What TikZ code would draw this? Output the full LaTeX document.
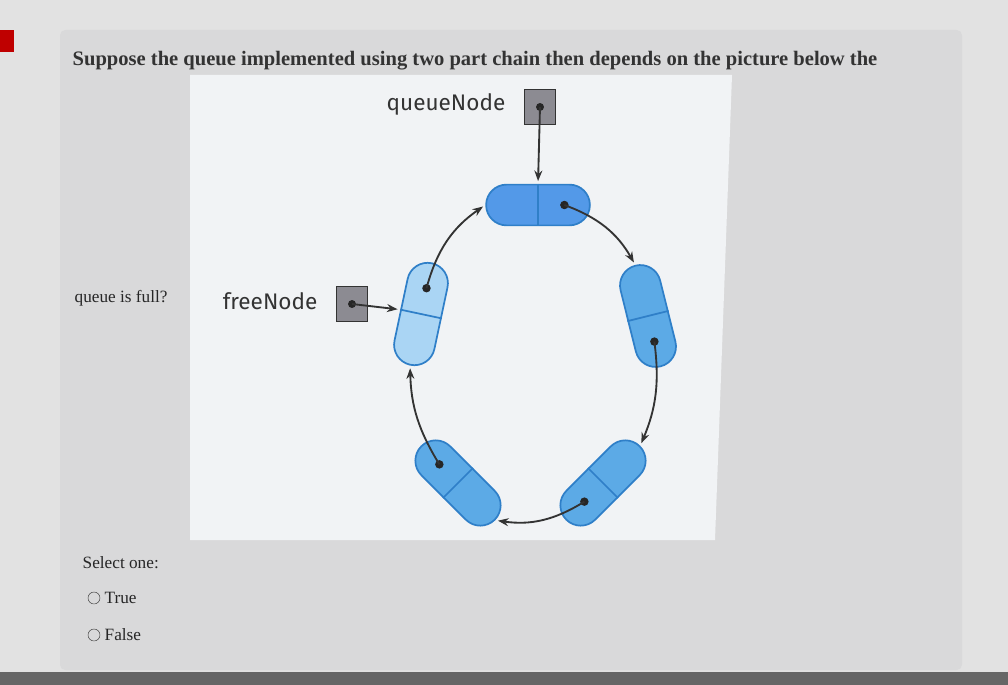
\documentclass[tikz,border=0pt]{standalone}
\usepackage{fontspec}
\setmainfont{Liberation Serif}
\newfontfamily\figfont{Fira Sans}
\usetikzlibrary{calc,arrows.meta}
\definecolor{bg}{HTML}{E2E2E2}
\definecolor{card}{HTML}{D9D9DA}
\definecolor{pane}{HTML}{F1F3F5}
\definecolor{capfill}{HTML}{5CAAE6}
\definecolor{capedge}{HTML}{2F7FC8}
\definecolor{capfree}{HTML}{AAD5F4}
\definecolor{boxgray}{HTML}{8C8B92}
\tikzset{
  capsule/.style={draw=capedge, line width=1.3pt, fill=capfill, minimum width=2.75cm, minimum height=1.08cm, rounded corners=0.54cm, inner sep=0pt},
  ptrbox/.style={draw=black!80, line width=0.8pt, fill=boxgray, minimum width=0.8cm, minimum height=0.95cm, inner sep=0pt},
  link/.style={-{Stealth[length=8pt]}, line width=1.4pt, black!80, shorten >=2pt},
  lbl/.style={font=\figfont\fontsize{17}{19}\selectfont, text=black!80},
  qtext/.style={font=\fontsize{13}{15}\selectfont, text=black!85, anchor=west}
}
\newcommand{\capnode}[4]{%
  \node[capsule, rotate=#3, fill=#4] (#1) at (#2) {};
  \draw[capedge, line width=1.3pt] (#1.north) -- (#1.south);
  \coordinate (#1d) at ($(#1.center)!0.5!(#1.east)$);
  \fill[black!85] (#1d) circle (3.2pt);}
\begin{document}
\begin{tikzpicture}[x=0.0265cm, y=-0.0265cm]
\fill[bg] (0,0) rectangle (1008,685);
\useasboundingbox (0,0) rectangle (1008,685);
\fill[card, rounded corners=4pt] (60,30) rectangle (962,670);
\fill[black!60] (0,672) rectangle (1008,685);
\fill[red!75!black] (0,30) rectangle (14,52);
\fill[pane] (190,75) -- (732,75) -- (715,540) -- (190,540) -- cycle;
\node[font=\fontsize{15.5}{18}\selectfont\bfseries, anchor=west, text=black!80] (title) at (68,61) {Suppose the queue implemented using two part chain then depends on the picture below the};
\node[qtext] (q2) at (70,298) {queue is full?};
\node[qtext] (sel) at (78,563) {Select one:};
\node[draw=black!70, circle, minimum size=9pt, inner sep=0pt] (r1) at (94,598) {};
\node[qtext] (t1) at (100,598) {True};
\node[draw=black!70, circle, minimum size=9pt, inner sep=0pt] (r2) at (94,635) {};
\node[qtext] (t2) at (100,635) {False};

\node[lbl, anchor=east] (qlab) at (510,104) {queueNode};
\node[ptrbox] (qbox) at (540,107) {};
\fill[black!85] (qbox.center) circle (3pt);
\node[lbl, anchor=east] (flab) at (322,301) {freeNode};
\node[ptrbox] (fbox) at (352,304) {};
\fill[black!85] (fbox.center) circle (3pt);

\capnode{ntop}{538,205}{0}{capfill!90!blue}
\capnode{nright}{648,316}{-76}{capfill}
\capnode{nbr}{603,483}{-135}{capfill}
\capnode{nbl}{458,483}{135}{capfill}
\capnode{nleft}{421,314}{78}{capfree}

\draw[link] (qbox.center) -- (ntop.north);
\draw[link] (fbox.center) -- (nleft.north);
\draw[link] (ntopd) to[bend left=20] (nright.west);
\draw[link] (nrightd) to[bend left=15] (nbr.west);
\draw[link] (nbrd) to[bend left=20] (nbl.west);
\draw[link] (nbld) to[bend left=15] (nleft.west);
\draw[link] (nleftd) to[bend left=20] (ntop.west);
\end{tikzpicture}
\end{document}
